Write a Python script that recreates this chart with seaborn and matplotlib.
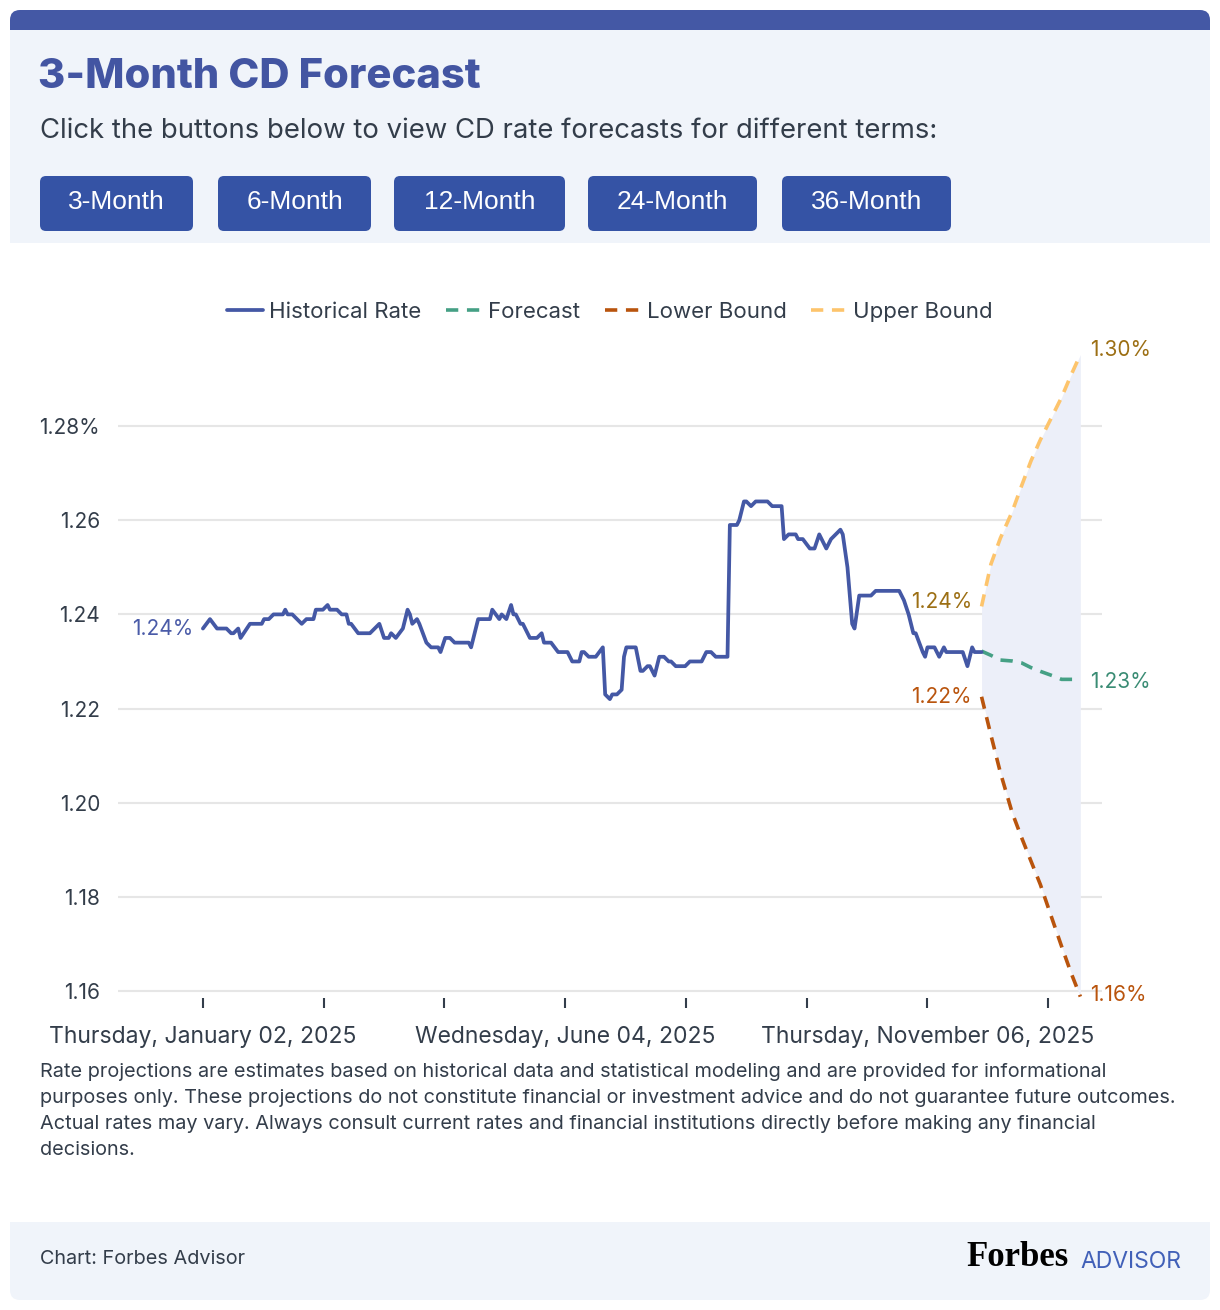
import numpy as np
import pandas as pd
import seaborn as sns
import matplotlib
matplotlib.use('Agg')
import matplotlib.pyplot as plt
from matplotlib.patches import FancyBboxPatch, Rectangle

# historical 3-month CD rate, x = days since Thursday, January 02, 2025
hist_day = [0, 3, 6, 10, 12, 13, 15, 16, 20, 25, 26, 28, 30, 34, 35, 36, 38, 42, 44, 47,
            48, 51, 53, 54, 57, 59, 61, 62, 63, 66, 71, 75, 77, 79, 80, 82, 85, 87, 88, 89,
            91, 92, 95, 97, 100, 101, 103, 105, 107, 113, 114, 117, 122, 123, 126, 127, 129, 131, 132, 133,
            135, 136, 138, 139, 142, 144, 145, 148, 151, 155, 157, 160, 161, 162, 164, 167, 170, 171, 173, 174,
            176, 178, 179, 180, 184, 186, 187, 189, 190, 192, 194, 196, 198, 199, 201, 205, 207, 212, 214, 216,
            218, 223, 224, 227, 228, 230, 231, 233, 235, 240, 242, 246, 247, 249, 252, 253, 255, 258, 260, 262,
            265, 267, 271, 272, 274, 276, 277, 279, 284, 286, 296, 298, 300, 301, 302, 303, 306, 307, 308, 311,
            313, 315, 316, 323, 325, 327, 328, 331]
hist_rate = [1.237, 1.239, 1.237, 1.237, 1.236, 1.236, 1.237, 1.235, 1.238, 1.238, 1.239, 1.239, 1.240, 1.240, 1.241, 1.240, 1.240, 1.238, 1.239, 1.239,
             1.241, 1.241, 1.242, 1.241, 1.241, 1.240, 1.240, 1.238, 1.238, 1.236, 1.236, 1.238, 1.235, 1.235, 1.236, 1.235, 1.237, 1.241, 1.240, 1.238,
             1.239, 1.238, 1.234, 1.233, 1.233, 1.232, 1.235, 1.235, 1.234, 1.234, 1.233, 1.239, 1.239, 1.241, 1.239, 1.240, 1.239, 1.242, 1.240, 1.240,
             1.238, 1.238, 1.236, 1.235, 1.235, 1.236, 1.234, 1.234, 1.232, 1.232, 1.230, 1.230, 1.232, 1.232, 1.231, 1.231, 1.233, 1.223, 1.222, 1.223,
             1.223, 1.224, 1.231, 1.233, 1.233, 1.228, 1.228, 1.229, 1.229, 1.227, 1.231, 1.231, 1.230, 1.230, 1.229, 1.229, 1.230, 1.230, 1.232, 1.232,
             1.231, 1.231, 1.259, 1.259, 1.260, 1.264, 1.264, 1.263, 1.264, 1.264, 1.263, 1.263, 1.256, 1.257, 1.257, 1.256, 1.256, 1.254, 1.254, 1.257,
             1.254, 1.256, 1.258, 1.257, 1.250, 1.238, 1.237, 1.244, 1.244, 1.245, 1.245, 1.243, 1.240, 1.238, 1.236, 1.236, 1.232, 1.231, 1.233, 1.233,
             1.231, 1.233, 1.232, 1.232, 1.229, 1.233, 1.232, 1.232]

# forecast with bounds
fc_day = [331, 335, 339, 344, 348, 352, 356, 361, 365, 369, 373]
fc_rate = [1.2322, 1.2313, 1.2303, 1.2301, 1.2297, 1.2287, 1.2279, 1.2270, 1.2262, 1.2262, 1.2262]
fc_lower = [1.2225, 1.2143, 1.2064, 1.1979, 1.1926, 1.1876, 1.1826, 1.1753, 1.1695, 1.1639, 1.1588]
fc_upper = [1.2417, 1.2507, 1.2562, 1.2618, 1.2673, 1.2726, 1.2771, 1.2821, 1.2861, 1.2908, 1.2952]

x_tick_day = [0, 51.33, 102.67, 154, 205.33, 256.67, 308, 359.33]
x_tick_text = ['Thursday, January 02, 2025', '', '', 'Wednesday, June 04, 2025', '', '',
               'Thursday, November 06, 2025', '']
y_ticks = [1.16, 1.18, 1.20, 1.22, 1.24, 1.26, 1.28]
buttons = ['3-Month', '6-Month', '12-Month', '24-Month', '36-Month']

disclaimer = ['Rate projections are estimates based on historical data and statistical modeling and are provided for informational',
              'purposes only. These projections do not constitute financial or investment advice and do not guarantee future outcomes.',
              'Actual rates may vary. Always consult current rates and financial institutions directly before making any financial',
              'decisions.']

BLUE = '#4458a5'
GREEN = '#45a085'
LOWER = '#b9540d'
UPPER = '#fdc46c'
TXT = '#333d4a'

sns.set_theme(style='white')
plt.rcParams['font.family'] = ['Inter', 'DejaVu Sans']

fig = plt.figure(figsize=(12.2, 13.1), dpi=100)

# background layer in pixel coordinates
bg = fig.add_axes([0, 0, 1, 1], zorder=-1)
bg.set_xlim(0, 1220)
bg.set_ylim(1310, 0)
bg.axis('off')
bg.add_patch(FancyBboxPatch((10, 10), 1200, 60, boxstyle='round,pad=0,rounding_size=10',
                            fc=BLUE, ec='none'))
bg.add_patch(Rectangle((10, 30), 1200, 213, fc='#f0f4fa', ec='none'))
bg.add_patch(FancyBboxPatch((10, 1222), 1200, 78, boxstyle='round,pad=0,rounding_size=10',
                            fc='#f0f4fa', ec='none'))
bg.add_patch(Rectangle((10, 1222), 1200, 30, fc='#f0f4fa', ec='none'))

bg.text(38, 77, '3-Month CD Forecast', fontsize=30, fontweight='heavy', color='#4355a2', va='center')
bg.text(40, 131, 'Click the buttons below to view CD rate forecasts for different terms:',
        fontsize=19.8, color=TXT, va='center')
bx = [40, 218, 394, 588, 782]
bw = [153, 153, 171, 169, 169]
for x0, w, lab in zip(bx, bw, buttons):
    bg.add_patch(FancyBboxPatch((x0, 176), w, 55, boxstyle='round,pad=0,rounding_size=6',
                                fc='#3553a5', ec='none'))
    bg.text(x0 + w / 2, 202, lab, fontsize=19, color='white', ha='center', va='center',
            family='Liberation Sans')

for i, line in enumerate(disclaimer):
    bg.text(40, 1072 + i * 26, line, fontsize=14.3, color=TXT, va='center')
bg.text(40, 1259, 'Chart: Forbes Advisor', fontsize=14.3, color=TXT, va='center')
bg.text(1069, 1258, 'Forbes', fontsize=25, fontweight='bold', color='black', ha='right',
        va='center', family='Liberation Serif')
bg.text(1080, 1262, 'ADVISOR', fontsize=16.5, color='#4160b8', ha='left', va='center')

# chart
ax = fig.add_axes([118 / 1220, 312 / 1310, 984 / 1220, 658 / 1310])
hist = pd.DataFrame({'day': hist_day, 'rate': hist_rate})
fc = pd.DataFrame({'day': fc_day, 'rate': fc_rate, 'lower': fc_lower, 'upper': fc_upper})

ax.fill_between(fc['day'], fc['lower'], fc['upper'], color='#eceff9', lw=0, zorder=1)
sns.lineplot(data=hist, x='day', y='rate', ax=ax, color=BLUE, lw=2.7, label='Historical Rate', zorder=4)
sns.lineplot(data=fc, x='day', y='rate', ax=ax, color=GREEN, lw=2.6, label='Forecast', zorder=3)
sns.lineplot(data=fc, x='day', y='lower', ax=ax, color=LOWER, lw=2.6, label='Lower Bound', zorder=3)
sns.lineplot(data=fc, x='day', y='upper', ax=ax, color=UPPER, lw=2.6, label='Upper Bound', zorder=3)
for ln in ax.get_lines()[1:]:
    ln.set_dashes((3.4, 2.4))
    ln.set_clip_on(False)

ax.set_xlim(-36.1, 382.2)
ax.set_ylim(1.1585, 1.2983)
ax.set_yticks(y_ticks)
ax.set_yticklabels([f'{v:.2f}%' if v == max(y_ticks) else f'{v:.2f}' for v in y_ticks])
ax.set_xticks(x_tick_day)
ax.set_xticklabels(x_tick_text)
ax.set_xlabel('')
ax.set_ylabel('')
ax.grid(axis='y', color='#e6e6e6', lw=1.5)
ax.grid(axis='x', visible=False)
for s in ax.spines.values():
    s.set_visible(False)
ax.tick_params(axis='x', bottom=True, length=7, width=1.5, color=TXT, labelsize=16.5,
               labelcolor=TXT, pad=13)
ax.tick_params(axis='y', left=False, labelsize=15, labelcolor=TXT, pad=7)

lab_kw = dict(textcoords='offset points', fontsize=15, va='center')
ax.annotate(f'{hist_rate[0]:.2f}%', (hist_day[0], hist_rate[0]), xytext=(-7, 0), ha='right',
            color='#4a5ba8', **lab_kw)
ax.annotate(f'{fc_upper[0]:.2f}%', (fc_day[0], fc_upper[0]), xytext=(-7, 3), ha='right',
            color='#9c6f14', **lab_kw)
ax.annotate(f'{fc_lower[0]:.2f}%', (fc_day[0], fc_lower[0]), xytext=(-7, 0), ha='right',
            color=LOWER, **lab_kw)
ax.annotate(f'{fc_upper[-1]:.2f}%', (fc_day[-1], fc_upper[-1]), xytext=(7, 3), ha='left',
            color='#9c6f14', **lab_kw)
ax.annotate(f'{fc_rate[-1]:.2f}%', (fc_day[-1], fc_rate[-1]), xytext=(7, -2), ha='left',
            color='#3a8c74', **lab_kw)
ax.annotate(f'{fc_lower[-1]:.2f}%', (fc_day[-1], fc_lower[-1]), xytext=(7, 1), ha='left',
            color=LOWER, **lab_kw)

handles, labels = ax.get_legend_handles_labels()
ax.legend_.remove()
fig.legend(handles, labels, loc='center', bbox_to_anchor=(610 / 1220, 1 - 312 / 1310), ncol=4,
           frameon=False, fontsize=16, labelcolor=TXT, handlelength=1.6, handletextpad=0.3,
           columnspacing=1.1)

fig.savefig('out.png', dpi=100)
